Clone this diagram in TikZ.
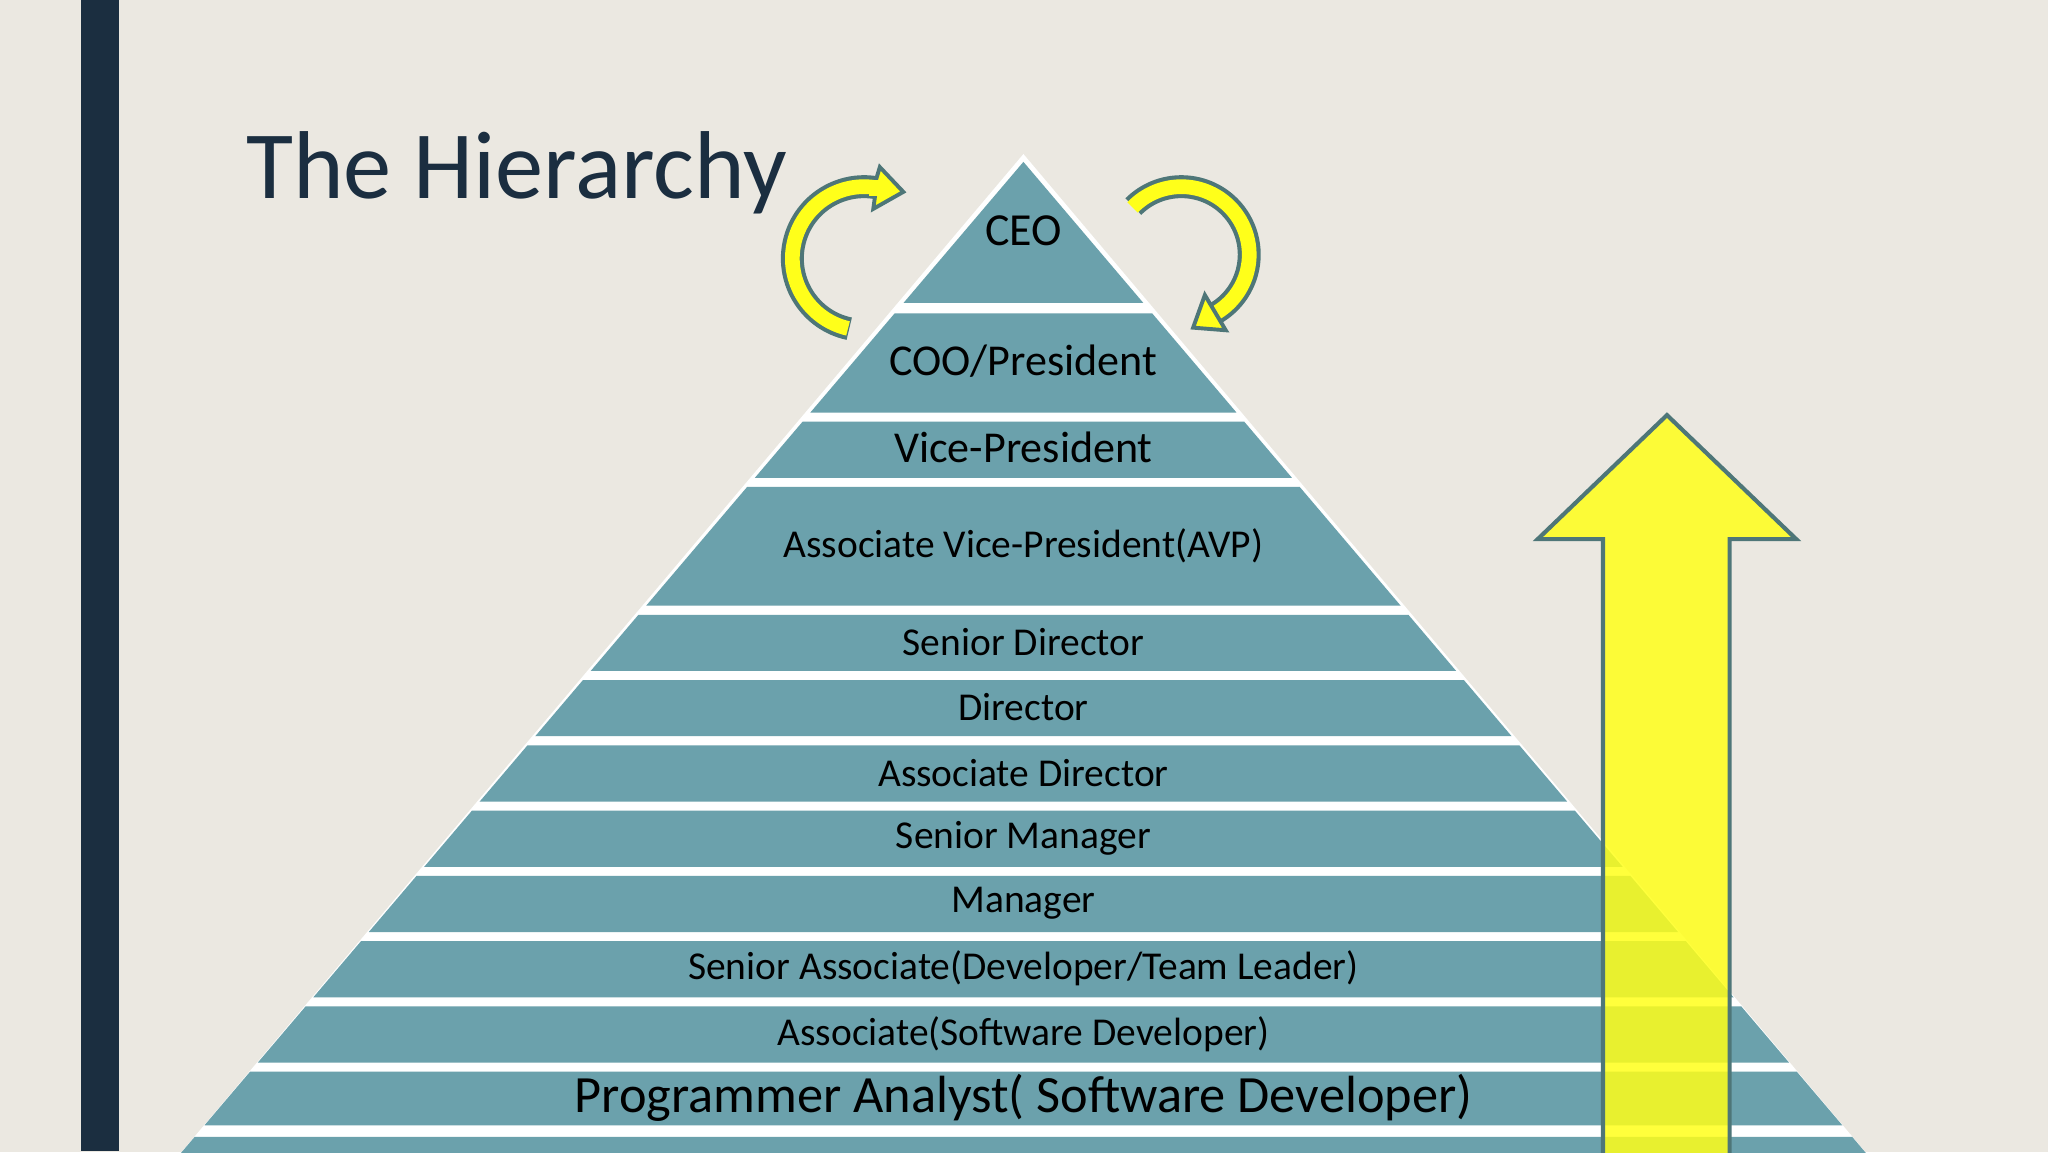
\documentclass[tikz,border=0pt]{standalone}
\usepackage{fontspec}
\setmainfont{Carlito}
\definecolor{bg}{HTML}{EBE8E1}
\definecolor{navy}{HTML}{1B2E40}
\definecolor{band}{HTML}{6BA1AC}
\definecolor{outl}{HTML}{4E7678}
\definecolor{yel}{HTML}{FFFF1A}
\begin{document}
\begin{tikzpicture}
\useasboundingbox (0,0) rectangle (15.68,8.82);
\clip (0,0) rectangle (15.68,8.82);
\fill[bg] (0,0) rectangle (15.68,8.82);
\begin{scope}[shift={(0,8.82)},x=0.01cm,y=-0.01cm]
\tikzset{lbl/.style={font=\fontsize{8.6}{9}\selectfont,text=black,inner sep=0pt},
  arcout/.style={line width=5pt,outl},
  arcin/.style={line width=3.2pt,yel},
  head/.style={fill=yel,draw=outl,line width=0.85pt,line join=miter}}
\fill[navy] (62,0) rectangle (91,882);
\node[anchor=base west,inner sep=0pt,text=navy,font=\fontsize{21}{24}\selectfont] (title) at (188,152) {The Hierarchy};
% pyramid white base
\fill[white] (784,118) -- (784-0.85*790,914) -- (784+0.85*790,914) -- cycle;
\foreach \t/\b/\n in {124/232/ceo,240/316/coo,323/366/vp,373/464/avp,471/514/sd,521/564/dir,571/614/ad,621/664/sm,671/714/mgr,721/764/sa,771/814/as,821/862/pa,871/914/tr}{
  \fill[band] (784-0.85*\t+0.85*124+0.001,\t) coordinate (\n-tl) -- (784+0.85*\t-0.85*124,\t) -- (784+0.85*\b-0.85*124,\b) -- (784-0.85*\b+0.85*124,\b) -- cycle;
}
\fill[band] (784,130) -- (784-0.85*102,232) -- (784+0.85*102,232) -- cycle;
\node[lbl,font=\fontsize{10}{11}\selectfont] (ceo) at (784,177) {CEO};
\node[lbl,font=\fontsize{9.6}{10}\selectfont] (coo) at (784,277) {COO/President};
\node[lbl,font=\fontsize{9.6}{10}\selectfont] (vp) at (784,343) {Vice-President};
\node[lbl] (avp) at (784,418) {Associate Vice-President(AVP)};
\node[lbl] (sd) at (784,492) {Senior Director};
\node[lbl] (dir) at (784,542) {Director};
\node[lbl] (ad) at (784,592) {Associate Director};
\node[lbl] (sm) at (784,642) {Senior Manager};
\node[lbl] (mgr) at (784,692) {Manager};
\node[lbl] (sa) at (784,742) {Senior Associate(Developer/Team Leader)};
\node[lbl] (as) at (784,792) {Associate(Software Developer)};
\node[lbl,font=\fontsize{11.4}{12}\selectfont] (pa) at (784,841) {Programmer Analyst( Software Developer)};
\node[lbl,font=\fontsize{8.6}{9}\selectfont] (tr) at (784,895) {Trainee};
% up arrow
\draw[fill=yel,fill opacity=0.85,draw=outl,line width=0.9pt]
  (1228,890) -- (1228,413) -- (1178,413) -- (1277,318) -- (1376,413) -- (1325,413) -- (1325,890) -- cycle;
% left curved arrow
\draw[arcout] (662,198) ++(102:55) arc[start angle=102,end angle=280,radius=55];
\draw[arcin] (662,198) ++(103:55) arc[start angle=103,end angle=281,radius=55];
\draw[head] (674,128) -- (692,147) -- (669,160) -- (670.5,149) -- (671,138) -- cycle;
\fill[yel] (666,138) rectangle (674,150);
% right curved arrow
\draw[arcout] (905,195) ++(225:52) arc[start angle=225,end angle=420,radius=52];
\draw[arcin] (905,195) ++(224:52) arc[start angle=224,end angle=421,radius=52];
\draw[head] (923,226) -- (939,253) -- (914,251) -- cycle;
\end{scope}
\end{tikzpicture}
\end{document}
